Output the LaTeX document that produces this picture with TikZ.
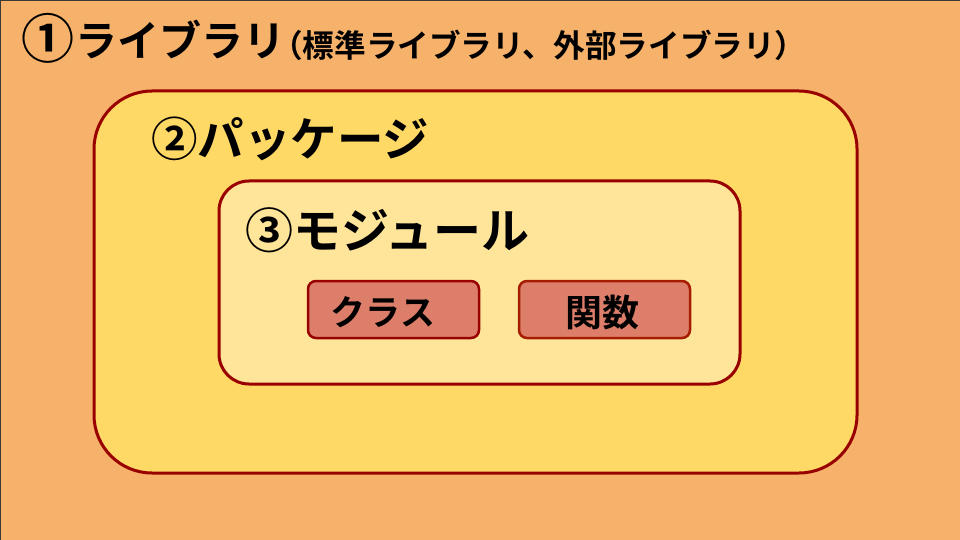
\documentclass[tikz,border=0pt]{standalone}
\usepackage{fontspec}
\newfontfamily\jp{Noto Sans CJK JP}[UprightFont=* Bold]
\definecolor{bgorange}{HTML}{F6B26B}
\definecolor{pkgyellow}{HTML}{FFD966}
\definecolor{modyellow}{HTML}{FFE599}
\definecolor{itemred}{HTML}{DD7E6B}
\definecolor{darkred}{HTML}{990000}
\definecolor{berry}{HTML}{A61C00}
\definecolor{edgegray}{HTML}{3A3A3A}
\tikzset{
  txt/.style={inner sep=0pt, text=black, anchor=base west},
  pkgbox/.style={draw=darkred, line width=3pt, fill=pkgyellow, rounded corners=58pt},
  modbox/.style={draw=darkred, line width=3pt, fill=modyellow, rounded corners=30pt},
  itembox/.style={line width=2.5pt, fill=itemred, rounded corners=8pt},
}
\begin{document}
\begin{tikzpicture}[x=1pt,y=-1pt]
\useasboundingbox (0,0) rectangle (960,540);
\fill[bgorange] (0,0) rectangle (960,540);
\draw[edgegray, line width=1.2pt] (0.6,540) -- (0.6,0.6) -- (960,0.6);
% boxes
\draw[pkgbox] (94,91) rectangle (857,473);
\draw[modbox] (219,181) rectangle (740,384);
\draw[itembox, draw=darkred] (308,281) rectangle (479,338);
\draw[itembox, draw=berry] (519,281) rectangle (690,338);
% texts
\node[txt, font=\jp\fontsize{53}{53}\selectfont] (c1) at (21,59) {①};
\node[txt, font=\jp\fontsize{42}{42}\selectfont] (t1) at (75,57) {ライブラリ};
\node[txt, font=\jp\fontsize{31.6}{31.6}\selectfont] (t1b) at (271,58) {（標準ライブラリ、外部ライブラリ）};
\node[txt, font=\jp\fontsize{46.5}{46.5}\selectfont] (t2) at (151,157) {②パッケージ};
\node[txt, font=\jp\fontsize{48}{48}\selectfont] (t3) at (245,248) {③モジュール};
\node[txt, anchor=base, font=\jp\fontsize{35}{35}\selectfont] (t4) at (383,325) {クラス};
\node[txt, anchor=base, font=\jp\fontsize{37}{37}\selectfont] (t5) at (602,326) {関数};
\end{tikzpicture}
\end{document}
